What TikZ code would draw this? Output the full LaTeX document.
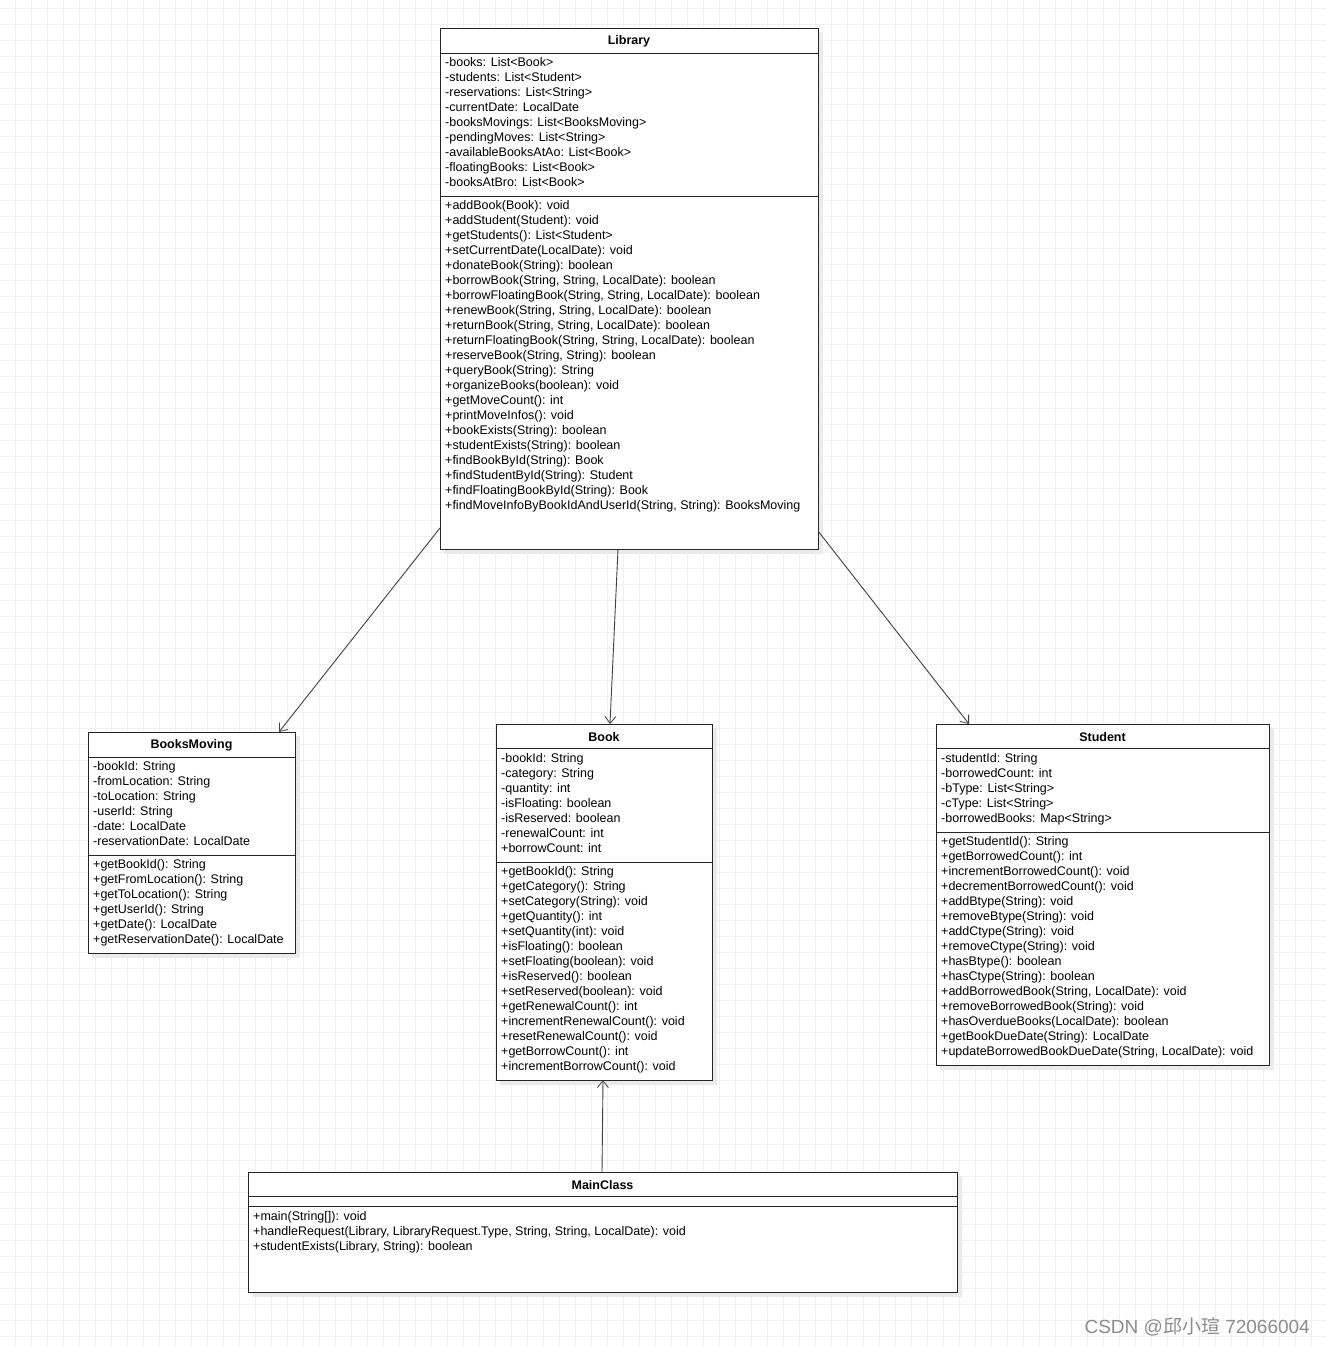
\documentclass[tikz,border=0pt]{standalone}
\usepackage{fontspec}
\setmainfont{Liberation Sans}
\newfontfamily\cjk{Noto Sans CJK SC}
\usetikzlibrary{arrows.meta}
\tikzset{
  cls/.style={draw=black!85,line width=0.8pt,fill=white,inner sep=0pt,anchor=north west},
  shad/.style={fill=black!8,draw=none},
  sep/.style={draw=black!85,line width=0.8pt},
  ttl/.style={font=\fontsize{12.5}{15}\selectfont\bfseries,inner sep=0pt},
  txt/.style={font=\fontsize{12.5}{15}\selectfont,align=left,anchor=north west,inner sep=0pt},
  assoc/.style={draw=black!75,line width=0.9pt,-{Straight Barb[length=7pt,width=11pt,line width=0.8pt]}}
}
\begin{document}
\begin{tikzpicture}[x=1pt,y=-1pt]
\useasboundingbox (0,0) rectangle (1326,1346);
\fill[white] (0,0) rectangle (1326,1346);
\foreach \i in {15,31,...,1326} \draw[black!6,line width=0.6pt] (\i,0) -- (\i,1346);
\foreach \i in {8,24,...,1346} \draw[black!6,line width=0.6pt] (0,\i) -- (1326,\i);
% shadows
\fill[shad] (444,32) rectangle (823,554);
\fill[shad] (92,736) rectangle (300,958);
\fill[shad] (500,728) rectangle (717,1085);
\fill[shad] (940,728) rectangle (1274,1070);
\fill[shad] (252,1176) rectangle (962,1297);
% Library
\node[cls,minimum width=378pt,minimum height=521pt] (lib) at (440,28) {};
\draw[sep] (440,53) -- (818,53) (440,196) -- (818,196);
\node[ttl] (libt) at (629,41) {Library};
\node[txt] (liba) at (445,57) {-books: List<Book>\\-students: List<Student>\\-reservations: List<String>\\-currentDate: LocalDate\\-booksMovings: List<BooksMoving>\\-pendingMoves: List<String>\\-availableBooksAtAo: List<Book>\\-floatingBooks: List<Book>\\-booksAtBro: List<Book>};
\node[txt] (libm) at (445,200) {+addBook(Book): void\\+addStudent(Student): void\\+getStudents(): List<Student>\\+setCurrentDate(LocalDate): void\\+donateBook(String): boolean\\+borrowBook(String, String, LocalDate): boolean\\+borrowFloatingBook(String, String, LocalDate): boolean\\+renewBook(String, String, LocalDate): boolean\\+returnBook(String, String, LocalDate): boolean\\+returnFloatingBook(String, String, LocalDate): boolean\\+reserveBook(String, String): boolean\\+queryBook(String): String\\+organizeBooks(boolean): void\\+getMoveCount(): int\\+printMoveInfos(): void\\+bookExists(String): boolean\\+studentExists(String): boolean\\+findBookById(String): Book\\+findStudentById(String): Student\\+findFloatingBookById(String): Book\\+findMoveInfoByBookIdAndUserId(String, String): BooksMoving};
% BooksMoving
\node[cls,minimum width=207pt,minimum height=221pt] (bm) at (88,732) {};
\draw[sep] (88,757) -- (295,757) (88,855) -- (295,855);
\node[ttl] (bmt) at (191.5,745) {BooksMoving};
\node[txt] (bma) at (93,761) {-bookId: String\\-fromLocation: String\\-toLocation: String\\-userId: String\\-date: LocalDate\\-reservationDate: LocalDate};
\node[txt] (bmm) at (93,859) {+getBookId(): String\\+getFromLocation(): String\\+getToLocation(): String\\+getUserId(): String\\+getDate(): LocalDate\\+getReservationDate(): LocalDate};
% Book
\node[cls,minimum width=216pt,minimum height=356pt] (book) at (496,724) {};
\draw[sep] (496,748) -- (712,748) (496,862) -- (712,862);
\node[ttl] (bookt) at (604,737) {Book};
\node[txt] (booka) at (501,753) {-bookId: String\\-category: String\\-quantity: int\\-isFloating: boolean\\-isReserved: boolean\\-renewalCount: int\\+borrowCount: int};
\node[txt] (bookm) at (501,866) {+getBookId(): String\\+getCategory(): String\\+setCategory(String): void\\+getQuantity(): int\\+setQuantity(int): void\\+isFloating(): boolean\\+setFloating(boolean): void\\+isReserved(): boolean\\+setReserved(boolean): void\\+getRenewalCount(): int\\+incrementRenewalCount(): void\\+resetRenewalCount(): void\\+getBorrowCount(): int\\+incrementBorrowCount(): void};
% Student
\node[cls,minimum width=333pt,minimum height=341pt] (stu) at (936,724) {};
\draw[sep] (936,748) -- (1269,748) (936,832) -- (1269,832);
\node[ttl] (stut) at (1102.5,737) {Student};
\node[txt] (stua) at (941,753) {-studentId: String\\-borrowedCount: int\\-bType: List<String>\\-cType: List<String>\\-borrowedBooks: Map<String>};
\node[txt] (stum) at (941,836) {+getStudentId(): String\\+getBorrowedCount(): int\\+incrementBorrowedCount(): void\\+decrementBorrowedCount(): void\\+addBtype(String): void\\+removeBtype(String): void\\+addCtype(String): void\\+removeCtype(String): void\\+hasBtype(): boolean\\+hasCtype(String): boolean\\+addBorrowedBook(String, LocalDate): void\\+removeBorrowedBook(String): void\\+hasOverdueBooks(LocalDate): boolean\\+getBookDueDate(String): LocalDate\\+updateBorrowedBookDueDate(String, LocalDate): void};
% MainClass
\node[cls,minimum width=709pt,minimum height=120pt] (main) at (248,1172) {};
\draw[sep] (248,1196) -- (957,1196) (248,1206) -- (957,1206);
\node[ttl] (maint) at (602.5,1185) {MainClass};
\node[txt] (mainm) at (253,1211) {+main(String[]): void\\+handleRequest(Library, LibraryRequest.Type, String, String, LocalDate): void\\+studentExists(Library, String): boolean};
% connectors
\coordinate (l1) at (440,528); \coordinate (b1) at (279,732);
\coordinate (l2) at (618,549); \coordinate (b2) at (610,724);
\coordinate (l3) at (818,531); \coordinate (b3) at (969,724);
\coordinate (m1) at (602,1172); \coordinate (b4) at (603,1080);
\draw[assoc] (l1) -- (b1);
\draw[assoc] (l2) -- (b2);
\draw[assoc] (l3) -- (b3);
\draw[assoc] (m1) -- (b4);
\node[font=\fontsize{19}{20}\selectfont,text=black!45,anchor=east,inner sep=0pt] (wm) at (1310,1327) {CSDN @{\cjk 邱小瑄} 72066004};
\end{tikzpicture}
\end{document}
